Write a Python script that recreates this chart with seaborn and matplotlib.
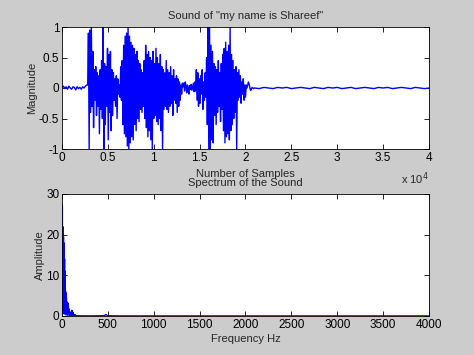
import numpy as np
import pandas as pd
import matplotlib
matplotlib.use("Agg")
import matplotlib.pyplot as plt
import seaborn as sns

# ---------------- data ----------------
# waveform: quiet lead-in, 0..2700 samples every 150
head_start, head_step = 0, 150
head_vals = [0.01, 0.03, -0.01, 0.02, -0.02, 0.03, 0.0, -0.02, 0.02, 0.01,
             -0.03, 0.02, -0.01, 0.01, -0.02, 0.02, 0.0, 0.03, 0.05]
# active speech, from 2800 samples every 80
act_start, act_step = 2800, 80
act_vals = [
    0.05, 0.9, -1.0, 0.95, -0.4, 1.0, -0.3,
    0.6, -0.65, 0.3, -0.2, 0.35, -0.45, 0.25, -0.3, 0.2, -0.75,
    0.3, -0.35, 0.45, -0.5, 1.0, -1.0, 0.4, -0.6, 0.35, -0.3,
    0.65, -0.85, 0.55, -0.4, 0.6, -0.7, 0.3, -0.45, 0.25, -0.2, 0.15,
    -0.3, 0.2, -0.5, 0.15, -0.1, 0.05, -0.15, 0.35, -0.2,
    0.45, -0.6, 0.7, -0.75, 0.85, -0.8, 0.9, -0.95, 1.0, -1.0, 0.85, -0.9,
    0.75, -0.8, 0.7, -0.85, 0.65, -0.6, 0.55, -0.7, 0.6, -0.5, 0.45, -0.55, 0.4,
    -0.35, 0.3, -0.4, 0.25, -0.3, 0.45,
    -0.5, 0.7, -0.65, 0.55, -0.8, 0.6, -0.7, 0.5, -0.85, 0.45, -1.0, 0.6, -0.5, 0.4,
    -0.45, 0.65, -0.55, 0.5, -0.6, 0.4, -0.5, 0.55, -0.7, 0.35, -1.0, 0.3, -0.35, 0.25,
    -0.3, 0.45, -0.35, 0.3, -0.4, 0.25, -0.3, 0.35, -0.25, 0.2, -0.45, 0.3, -0.2, 0.15,
    -0.25, 0.2, -0.4, 0.15, -0.3, 0.1, -0.2, 0.05, -0.1, 0.08,
    0.02, 0.08, -0.05, 0.1, 0.03, -0.08, 0.05, 0.0, -0.1, 0.04, -0.02, 0.06,
    -0.04, 0.02, 0.08, -0.06, 0.1, -0.05,
    0.3, -0.2, 0.25, -0.3, 0.15, -0.25, 0.2, -0.1, 0.3, -0.35, 0.1, -0.2, 0.25, -0.15,
    0.5, -0.6, 1.0, -1.0, 1.0, -1.0, 0.7, -0.85, 0.6, -0.9, 0.4,
    -0.45, 0.35, -0.6, 0.3, -0.4, 0.45, -0.3, 0.25, -0.55, 0.4, -0.35,
    0.55, -0.7, 0.65, -0.9, 0.75, -0.8, 0.6, -0.75, 0.7, -0.85, 1.0, -0.7, 0.55, -0.6,
    0.45, -0.5, 0.3, -0.4, 0.35, -1.0, 0.25, -0.2,
    0.3, -0.15, 0.2, -0.25, 0.1, -0.1, 0.15, -0.2, 0.05, -0.15, 0.05,
    0.0, 0.05, 0.1, 0.06, 0.0, -0.04, -0.02, 0.01, 0.0, -0.01,
]
# quiet tail, from 21000 samples every 500
tail_start, tail_step = 21000, 500
tail_vals = [0.0, -0.01, 0.01, 0.0, -0.01, 0.01, 0.0, 0.01, -0.01, 0.0,
             0.01, 0.0, -0.01, 0.01, 0.0, -0.01, 0.01, 0.0, 0.01, -0.01,
             0.0, 0.01, -0.01, 0.0, 0.01, 0.0, -0.01, 0.01, 0.0, 0.01,
             -0.01, 0.0, 0.01, 0.0, -0.01, 0.01, 0.0, -0.01, 0.0]

# spectrum: low band 0..160 Hz every 2 Hz, then coarse band
spec_low_start, spec_low_step = 0, 2
spec_low = [27.5, 0.5, 27, 1, 22, 0.8, 20, 2, 19.5, 1, 18, 0.5, 17.5, 3, 14, 1,
            11, 0.5, 8, 2, 6, 0.3, 5.5, 1, 4.5, 0.5, 3.5, 1, 3.2, 0.2, 2.8, 0.5,
            3.2, 1, 2.5, 0.3, 2, 0.5, 1.5, 0.2, 1.2, 0.4, 0.8, 0.1, 0.9, 0.3,
            0.6, 0.2, 0.5, 0.1, 0.8, 0.3, 1.2, 0.2, 1.4, 0.4, 1.3, 0.2, 1.0, 0.3,
            0.7, 0.1, 0.5, 0.2, 0.4, 0.1, 0.3, 0.05, 0.35, 0.1, 0.25, 0.05, 0.2,
            0.1, 0.15, 0.05, 0.1, 0.02, 0.08, 0.02, 0.05]
spec_high_freq = [200, 300, 400, 460, 480, 500, 600, 1000, 2000, 3000, 4000]
spec_high = [0.05, 0.03, 0.05, 0.1, 0.35, 0.05, 0.03, 0.02, 0.02, 0.02, 0.02]

x_ticks1 = [0, 5000, 10000, 15000, 20000, 25000, 30000, 35000, 40000]
x_labels1 = ["0", "0.5", "1", "1.5", "2", "2.5", "3", "3.5", "4"]
y_ticks1 = [-1, -0.5, 0, 0.5, 1]
y_labels1 = ["-1", "-0.5", "0", "0.5", "1"]
x_ticks2 = [0, 500, 1000, 1500, 2000, 2500, 3000, 3500, 4000]
y_ticks2 = [0, 10, 20, 30]

# ---------------- build frames ----------------
wave_x = ([head_start + i * head_step for i in range(len(head_vals))]
          + [act_start + i * act_step for i in range(len(act_vals))]
          + [tail_start + i * tail_step for i in range(len(tail_vals))])
wave_y = head_vals + act_vals + tail_vals
wave = pd.DataFrame({"sample": wave_x, "mag": wave_y})

spec_x = [spec_low_start + i * spec_low_step for i in range(len(spec_low))] + spec_high_freq
spec_y = spec_low + spec_high
spec = pd.DataFrame({"freq": spec_x, "amp": spec_y})

# ---------------- style ----------------
sns.set_theme(style="white")
plt.rcParams["font.family"] = ["Liberation Sans", "DejaVu Sans"]
bg = "#cccccc"
fs_tick = 8.5
fs = 8

fig = plt.figure(figsize=(4.74, 3.55), dpi=100, facecolor=bg)
ax1 = fig.add_axes([62 / 474, 1 - 149 / 355, 367 / 474, 122 / 355])
ax2 = fig.add_axes([62 / 474, 1 - 316 / 355, 367 / 474, 122 / 355])

sns.lineplot(data=wave, x="sample", y="mag", ax=ax1, color="#0000ff",
             linewidth=1.0, estimator=None, sort=False)
sns.lineplot(data=spec, x="freq", y="amp", ax=ax2, color="#0000ff",
             linewidth=1.0, estimator=None, sort=False)

for ax in (ax1, ax2):
    ax.set_facecolor("white")
    for s in ax.spines.values():
        s.set_color("black")
        s.set_linewidth(0.6)
    ax.tick_params(direction="in", length=3.5, width=0.6, top=True, right=True,
                   labelsize=fs_tick, colors="black", pad=2,
                   bottom=True, left=True)
    ax.grid(False)

ax1.set_xlim(0, 40000)
ax1.set_ylim(-1, 1)
ax1.set_xticks(x_ticks1)
ax1.set_xticklabels(x_labels1)
ax1.set_yticks(y_ticks1)
ax1.set_yticklabels(y_labels1)
ax1.set_xlabel("Number of Samples", fontsize=fs, labelpad=3.5)
ax1.set_ylabel("Magnitude", fontsize=fs, labelpad=1)
ax1.set_title('Sound of "my name is Shareef"', fontsize=fs, pad=5.5)
ax1.text(1.0, -0.24, r"x 10$^4$", transform=ax1.transAxes, fontsize=fs,
         ha="right", va="center")

ax2.set_xlim(0, 4000)
ax2.set_ylim(0, 30)
ax2.set_xticks(x_ticks2)
ax2.set_yticks(y_ticks2)
ax2.set_xlabel("Frequency Hz", fontsize=fs, labelpad=2)
ax2.set_ylabel("Amplitude", fontsize=fs, labelpad=1)
ax2.set_title("Spectrum of the Sound", fontsize=fs, pad=5.5)

fig.savefig("out.png", dpi=100, facecolor=bg)
